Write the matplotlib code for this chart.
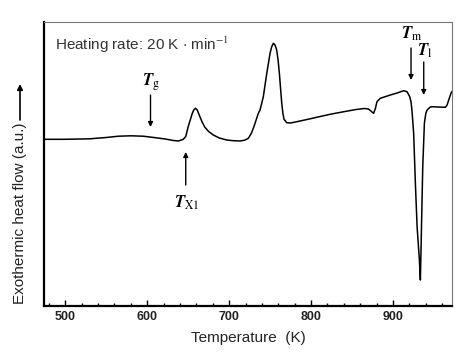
import matplotlib
matplotlib.use("Agg")
import matplotlib.pyplot as plt
from matplotlib.ticker import MultipleLocator

plt.rcParams['font.family'] = ['Liberation Sans', 'DejaVu Sans']
plt.rcParams['mathtext.fontset'] = 'stix'

# DSC trace (temperature in K, heat flow in a.u.)
temperature = [474, 500, 530, 550, 565, 580, 595, 610, 622, 632, 638, 644,
               647, 650, 652.5, 655, 657, 659, 661, 664.3, 667, 670.4, 675,
               680.6, 688, 697, 705, 713, 719, 723.4, 727, 729.5, 731.6,
               735.6, 737.7, 741.7, 743.8, 745.9, 748, 749.9, 752, 754, 756,
               758, 759.7, 761.3, 762.8, 764.2, 765.6, 767, 770.3, 775,
               782.6, 795, 810, 825, 840, 855, 865, 870, 873, 876.3, 878.5,
               880.4, 884.5, 890, 896.7, 905, 913, 917.1, 920.4, 922, 923.2,
               925.2, 927.3, 929.4, 932.2, 933.4, 934.6, 936.3, 938.3, 940,
               941.6, 943.5, 945.6, 947.7, 955, 964, 966, 968, 971, 972]
heat_flow = [166.7, 166.7, 167.2, 168.5, 169.8, 170.2, 169.8, 168.3, 167.0,
             165.5, 165.0, 166.7, 169.5, 179.3, 186.0, 192.7, 196.3, 197.7,
             196.0, 189.3, 184.0, 178.7, 174.5, 171.0, 168.0, 166.0, 165.3,
             165.0, 165.8, 167.7, 172.5, 177.7, 182.7, 192.7, 196.0, 209.3,
             221.0, 232.7, 243.0, 252.7, 259.5, 262.7, 261.0, 256.0, 246.0,
             232.7, 217.0, 202.7, 192.5, 186.7, 183.3, 183.0, 184.3, 186.5,
             189.3, 192.0, 194.3, 196.5, 197.5, 197.0, 195.0, 192.7, 197.5,
             204.3, 207.7, 209.2, 211.0, 213.0, 215.3, 214.3, 209.3, 204.0,
             195.0, 172.7, 122.7, 79.3, 46.0, 26.0, 73.0, 139.3, 182.7, 192.5,
             196.0, 197.5, 199.0, 199.3, 199.0, 198.7, 201.0, 206.0, 213.3,
             214.5]

# characteristic temperatures: label, x, arrow tail y, arrow tip y, label y
markers = [
    (r'$\mathbfit{T}_{\mathrm{g}}$', 604, 211, 179, 224),
    (r'$\mathbfit{T}_{\mathrm{X1}}$', 647, 121, 154, 103),
    (r'$\mathbfit{T}_{\mathrm{m}}$', 922, 258, 226, 272),
    (r'$\mathbfit{T}_{\mathrm{l}}$', 937.5, 244, 211, 255),
]

fig = plt.figure(figsize=(4.74, 3.58), dpi=100)
ax = fig.add_axes([44 / 474, 52 / 358, 408 / 474, 284 / 358])

ax.plot(temperature, heat_flow, color='black', lw=1.1)

for label, x, y0, y1, ylab in markers:
    ax.annotate('', xy=(x, y1), xytext=(x, y0),
                arrowprops=dict(arrowstyle='-|>', color='black', lw=1.0,
                                mutation_scale=7, shrinkA=0, shrinkB=0))
    ax.text(x + 1, ylab, label, ha='center', va='center', fontsize=12)

ax.text(0.027, 0.92, 'Heating rate: 20 K $\\cdot$ min$^{-1}$',
        transform=ax.transAxes, fontsize=11, color='#333333', va='center')

ax.set_xlim(474, 972)
ax.set_ylim(0, 284)
ax.xaxis.set_major_locator(MultipleLocator(100))
ax.xaxis.set_minor_locator(MultipleLocator(20))
ax.tick_params(axis='x', which='both', direction='in', labelsize=9)
ax.tick_params(axis='x', which='major', length=4, width=1)
ax.tick_params(axis='x', which='minor', length=2.5, width=1)
ax.set_yticks([])
for lab in ax.get_xticklabels():
    lab.set_fontweight('bold')
    lab.set_color('#222222')

ax.spines['left'].set_linewidth(1.6)
ax.spines['bottom'].set_linewidth(1.6)
for side in ('top', 'right'):
    ax.spines[side].set_linewidth(0.8)
    ax.spines[side].set_color('#777777')

ax.set_xlabel('Temperature  (K)', fontsize=11, color='#222222', labelpad=6)

fig.text(20 / 474, 1 - 213 / 358, 'Exothermic heat flow (a.u.)', rotation=90,
         ha='center', va='center', fontsize=11, color='#222222')
ax.annotate('', xy=(20 / 474, 1 - 84 / 358), xytext=(20 / 474, 1 - 120 / 358),
            xycoords='figure fraction', textcoords='figure fraction',
            arrowprops=dict(arrowstyle='-|>', color='black', lw=1.2,
                            mutation_scale=8, shrinkA=0, shrinkB=0))

fig.savefig('out.png', dpi=100)
